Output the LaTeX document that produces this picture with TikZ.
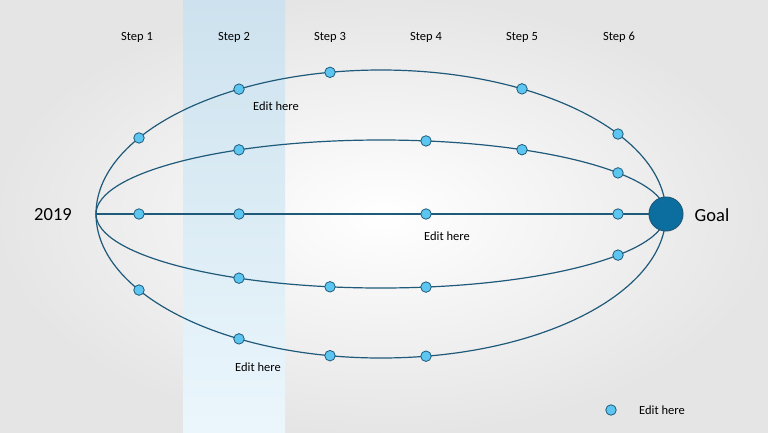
\documentclass[tikz,border=0pt]{standalone}
\usepackage{fontspec}
\setmainfont{Carlito}
\definecolor{ln}{HTML}{1F5A7A}
\definecolor{dotf}{HTML}{5CC6F0}
\definecolor{goalf}{HTML}{0B6E9E}
\definecolor{bandt}{HTML}{CDE2EE}
\definecolor{bandb}{HTML}{EBF6FC}
\begin{document}
\begin{tikzpicture}[x=1pt,y=-1pt,
  dot/.style={circle,draw=ln,fill=dotf,line width=0.8pt,minimum size=10.5pt,inner sep=0pt},
  lbl/.style={font=\fontsize{12.5}{14}\selectfont,text=black},
  curve/.style={draw=ln,line width=1.2pt}]
\shade[inner color=white,outer color=black!10] (0,0) rectangle (768,432);
\useasboundingbox (0,0) rectangle (768,432);
\shade[top color=bandt,bottom color=bandb] (183,0) rectangle (285,432);
\draw[curve] (381,214) ellipse [x radius=285,y radius=144];
\draw[curve] (381,214) ellipse [x radius=285,y radius=74];
\node[circle,draw=ln,fill=goalf,line width=1pt,minimum size=34pt,inner sep=0pt] (goal) at (666,214) {};
\coordinate (left) at (96,214);
\draw[curve] (left) -- (goal);
\foreach \x/\r/\n in {139/144/a1,239/144/a2,330/144/a3,522/144/a4,618/144/a5,
  239/74/b1,426/74/b2,522/74/b3,618/74/b4,
  239/-74/c1,330/-74/c2,426/-74/c3,618/-74/c4,
  139/-144/e1,239/-144/e2,330/-144/e3,426/-144/e4}
  \node[dot] (\n) at (\x,{214-\r*sqrt(1-((\x-381)/285)^2)}) {};
\foreach \x/\n in {139/m1,239/m2,426/m3,618/m4}
  \node[dot] (\n) at (\x,214) {};
\foreach \x/\s in {137/1,234/2,330/3,426/4,522/5,619/6}
  \node[lbl] (s\s) at (\x,37) {Step \s};
\node[font=\fontsize{18.5}{20}\selectfont] (y) at (53,215) {2019};
\node[font=\fontsize{18.5}{20}\selectfont] (g) at (712,215) {Goal};
\node[lbl] (t1) at (276,106) {Edit here};
\node[lbl] (t2) at (447,236) {Edit here};
\node[lbl] (t3) at (258,367) {Edit here};
\node[dot] (leg) at (611,410) {};
\node[lbl] (legt) at (662,410) {Edit here};
\end{tikzpicture}
\end{document}
